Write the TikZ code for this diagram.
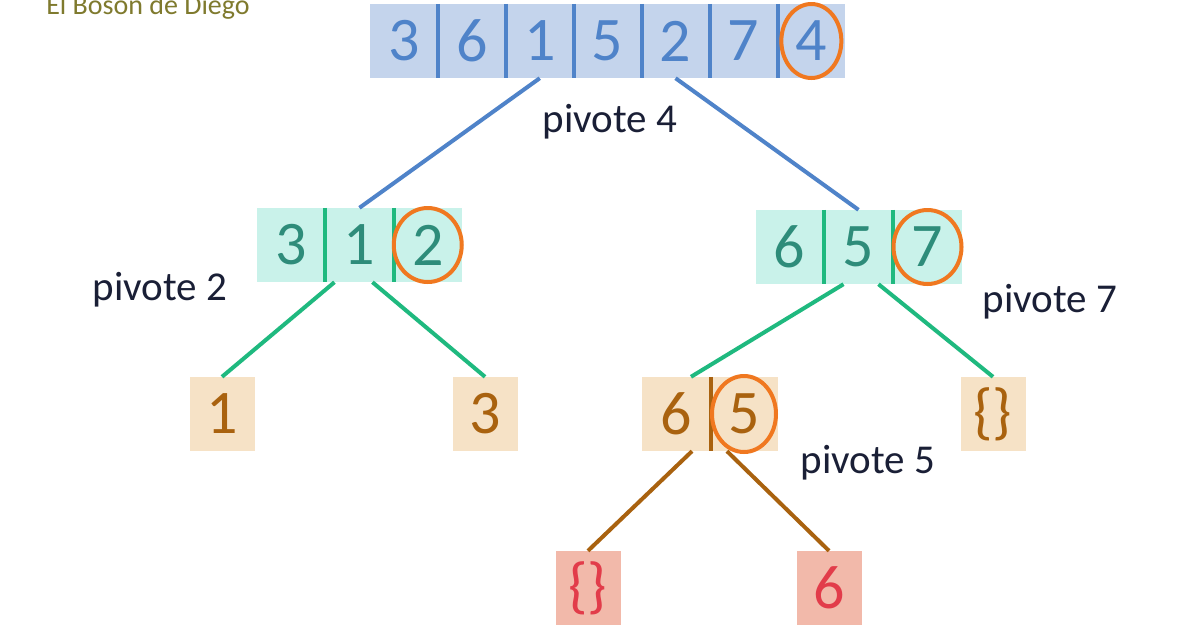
\documentclass[tikz,border=0pt]{standalone}
\usepackage{fontspec}
\setmainfont{Carlito}
\begin{document}
\begin{tikzpicture}[x=1pt,y=-1pt,
  cell/.style={minimum width=68pt,minimum height=74pt,inner sep=0pt,font=\fontsize{62}{62}\selectfont},
  bluec/.style={cell,fill=bfill,text=btext},
  tealc/.style={cell,fill=tfill,text=ttext},
  tanc/.style={cell,fill=nfill,text=ntext,minimum width=65pt},
  redc/.style={cell,fill=rfill,text=rtext,minimum width=65pt},
  sep/.style={line width=4pt},
  piv/.style={draw=porange,line width=4pt},
  lbl/.style={font=\fontsize{41}{41}\selectfont,text=lblc},
  edge/.style={line width=4pt}]
\definecolor{bfill}{HTML}{C4D4EC}\definecolor{btext}{HTML}{4F83C9}
\definecolor{tfill}{HTML}{C9F2EA}\definecolor{ttext}{HTML}{2E8C7A}\definecolor{tline}{HTML}{1FB97F}
\definecolor{nfill}{HTML}{F6E2C6}\definecolor{ntext}{HTML}{A9620F}
\definecolor{rfill}{HTML}{F2B9AA}\definecolor{rtext}{HTML}{E23C4A}
\definecolor{porange}{HTML}{F07820}\definecolor{lblc}{HTML}{1A1F36}\definecolor{olive}{HTML}{7F7A2E}
\path[use as bounding box] (0,0) rectangle (1200,630);
\fill[white] (0,0) rectangle (1200,630);
\node[text=olive,font=\fontsize{28}{28}\selectfont] (wm) at (148,7) {El Boson de Diego};
% top array
\foreach \v [count=\i] in {3,6,1,5,2,7,4}
  \node[bluec] (t\i) at ({370+67.9*(\i-0.5)},41) {\v};
\foreach \i in {1,...,6}
  \draw[sep,btext] (t\i.north east) -- (t\i.south east);
\draw[piv] (t7.center) ellipse (30pt and 37pt);
% left array
\foreach \v [count=\i] in {3,1,2}
  \node[tealc] (l\i) at ({257+68.3*(\i-0.5)},245) {\v};
\foreach \i in {1,2} \draw[sep,tline] (l\i.north east) -- (l\i.south east);
\draw[piv] (l3.center) ellipse (34pt and 37pt);
% right array
\foreach \v [count=\i] in {6,5,7}
  \node[tealc] (r\i) at ({755+69*(\i-0.5)},247) {\v};
\foreach \i in {1,2} \draw[sep,tline] (r\i.north east) -- (r\i.south east);
\draw[piv] (r3.center) ellipse (34pt and 37pt);
% third row
\node[tanc] (b1) at (222,414) {1};
\node[tanc] (b3) at (485,414) {3};
\node[tanc,minimum width=69pt] (b6) at (676,414) {6};
\node[tanc,minimum width=68pt] (b5) at (744,414) {5};
\draw[sep,ntext] (b6.north east) -- (b6.south east);
\draw[piv] (b5.center) ellipse (32pt and 38pt);
\node[tanc] (be) at (993,414) {\{\}};
% bottom row
\node[redc] (re) at (588,588) {\{\}};
\node[redc] (r6) at (829,588) {6};
% labels
\node[lbl] (p4) at (610,122) {pivote 4};
\node[lbl] (p2) at (160,290) {pivote 2};
\node[lbl] (p7) at (1050,302) {pivote 7};
\node[lbl] (p5) at (868,463) {pivote 5};
% edges
\draw[edge,btext] (t3.south) -- (l2.north);
\draw[edge,btext] (t5.south) -- (r2.north);
\draw[edge,tline] ([xshift=-25pt]l2.south) -- (b1.north);
\draw[edge,tline] ([xshift=13pt]l2.south) -- (b3.north);
\draw[edge,tline] ([xshift=-15pt]r2.south) -- ([xshift=15pt]b6.north);
\draw[edge,tline] ([xshift=20pt]r2.south) -- (be.north);
\draw[edge,ntext] ([xshift=16pt]b6.south) -- (re.north);
\draw[edge,ntext] ([xshift=-17pt]b5.south) -- (r6.north);
\end{tikzpicture}
\end{document}
